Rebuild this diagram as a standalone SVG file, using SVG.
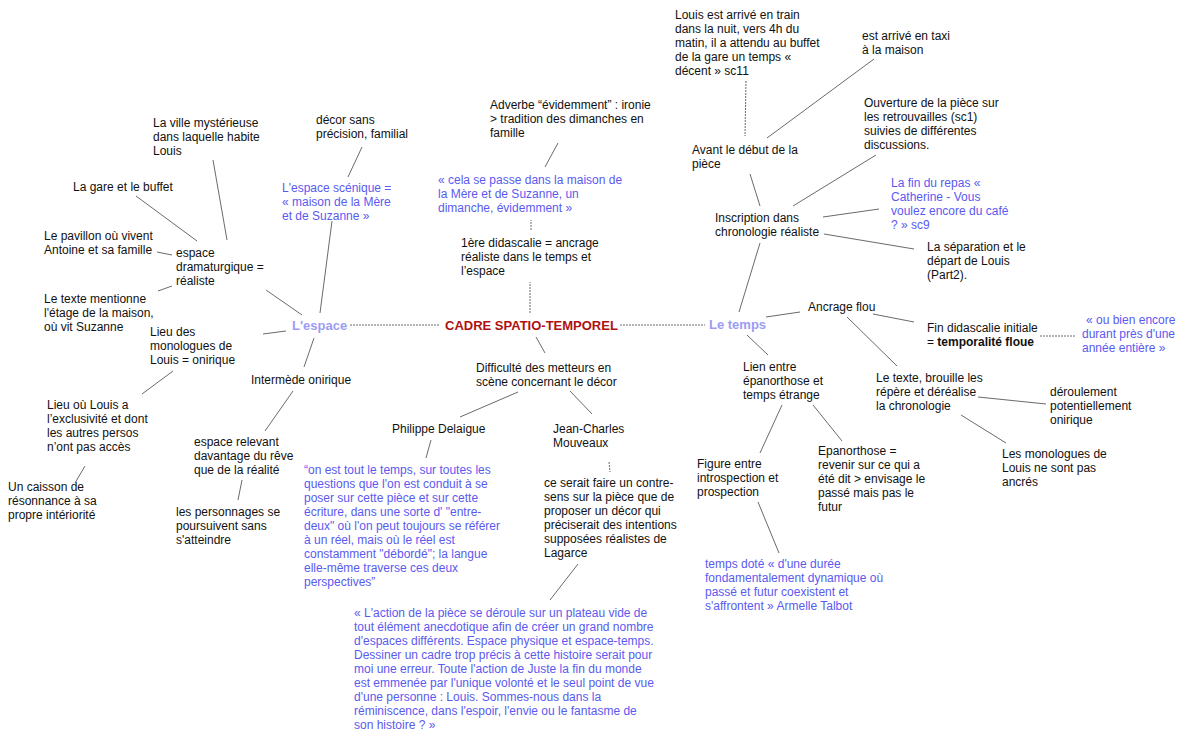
<svg xmlns="http://www.w3.org/2000/svg" width="1200" height="737" viewBox="0 0 1200 737">
<style>
text{font-family:"Liberation Sans",Arial,sans-serif;font-size:12px;fill:#111}
.b{fill:#5a5af0}
.h{fill:#9c9cf5;font-size:13px;font-weight:bold}
.c{fill:#b01010;font-size:13px;font-weight:bold}
#connectors line{stroke:#444;stroke-width:0.8}
#connectors .d{stroke-dasharray:2 1}
</style>
<rect width="1200" height="737" fill="#fff"/>
<g id="connectors">
<line class="d" x1="350" y1="325" x2="440" y2="325"/>
<line class="d" x1="620" y1="325" x2="705" y2="325"/>
<line class="d" x1="530" y1="313" x2="530" y2="282"/>
<line class="d" x1="531" y1="230" x2="531" y2="220"/>
<line x1="545" y1="167" x2="558" y2="143"/>
<line x1="536" y1="337" x2="545" y2="353"/>
<line x1="460" y1="417" x2="518" y2="392"/>
<line x1="570" y1="391" x2="592" y2="414"/>
<line x1="431" y1="440" x2="426" y2="458"/>
<line class="d" x1="609" y1="462" x2="610" y2="472"/>
<line x1="578" y1="564" x2="550" y2="600"/>
<line x1="302" y1="315" x2="266" y2="290"/>
<line x1="320" y1="313" x2="332" y2="221"/>
<line x1="348" y1="177" x2="362" y2="147"/>
<line x1="286" y1="331" x2="263" y2="334"/>
<line x1="314" y1="338" x2="304" y2="367"/>
<line x1="227" y1="240" x2="213" y2="160"/>
<line x1="197" y1="241" x2="136" y2="196"/>
<line x1="172" y1="255" x2="157" y2="252"/>
<line x1="172" y1="286" x2="158" y2="291"/>
<line x1="173" y1="371" x2="142" y2="394"/>
<line x1="85" y1="466" x2="75" y2="483"/>
<line x1="293" y1="391" x2="265" y2="431"/>
<line x1="242" y1="480" x2="238" y2="500"/>
<line class="d" x1="746" y1="81" x2="745" y2="136"/>
<line x1="767" y1="138" x2="874" y2="59"/>
<line x1="750" y1="174" x2="760" y2="206"/>
<line x1="793" y1="206" x2="876" y2="155"/>
<line x1="823" y1="217" x2="879" y2="209"/>
<line x1="824" y1="234" x2="914" y2="249"/>
<line x1="760" y1="243" x2="739" y2="312"/>
<line x1="766" y1="317" x2="800" y2="312"/>
<line x1="873" y1="314" x2="914" y2="322"/>
<line class="d" x1="1040" y1="336" x2="1076" y2="336"/>
<line x1="847" y1="317" x2="897" y2="366"/>
<line x1="747" y1="335" x2="768" y2="355"/>
<line x1="782" y1="405" x2="760" y2="453"/>
<line x1="813" y1="405" x2="842" y2="441"/>
<line x1="758" y1="502" x2="779" y2="553"/>
<line x1="978" y1="397" x2="1046" y2="404"/>
<line x1="961" y1="415" x2="1006" y2="443"/>
</g>
<text class="c" x="445" y="330">CADRE SPATIO-TEMPOREL</text>
<text class="h" x="292" y="330">L'espace</text>
<text class="h" x="709" y="329">Le temps</text>
<g id="n-espace">
<text x="153" y="127">La ville mystérieuse</text><text x="153" y="141">dans laquelle habite</text><text x="153" y="155">Louis</text>
<text x="73" y="191">La gare et le buffet</text>
<text x="44" y="240">Le pavillon où vivent</text><text x="44" y="254">Antoine et sa famille</text>
<text x="176" y="257">espace</text><text x="176" y="271">dramaturgique =</text><text x="176" y="285">réaliste</text>
<text x="44" y="303">Le texte mentionne</text><text x="44" y="317">l'étage de la maison,</text><text x="44" y="331">où vit Suzanne</text>
<text x="150" y="336">Lieu des</text><text x="150" y="350">monologues de</text><text x="150" y="364">Louis = onirique</text>
<text x="316" y="124">décor sans</text><text x="316" y="138">précision, familial</text>
<text class="b" x="282" y="192">L'espace scénique =</text><text class="b" x="282" y="206">« maison de la Mère</text><text class="b" x="282" y="220">et de Suzanne »</text>
<text x="251" y="384">Intermède onirique</text>
<text x="47" y="409">Lieu où Louis a</text><text x="47" y="423">l’exclusivité et dont</text><text x="47" y="437">les autres persos</text><text x="47" y="451">n’ont pas accès</text>
<text x="8" y="491">Un caisson de</text><text x="8" y="505">résonnance à sa</text><text x="8" y="519">propre intériorité</text>
<text x="194" y="446">espace relevant</text><text x="194" y="460">davantage du rêve</text><text x="194" y="474">que de la réalité</text>
<text x="176" y="516">les personnages se</text><text x="176" y="530">poursuivent sans</text><text x="176" y="544">s'atteindre</text>
</g>
<g id="n-centre">
<text x="490" y="109">Adverbe “évidemment” : ironie</text><text x="490" y="123">&gt; tradition des dimanches en</text><text x="490" y="137">famille</text>
<text class="b" x="438" y="184">« cela se passe dans la maison de</text><text class="b" x="438" y="198">la Mère et de Suzanne, un</text><text class="b" x="438" y="212">dimanche, évidemment »</text>
<text x="461" y="247">1ère didascalie = ancrage</text><text x="461" y="261">réaliste dans le temps et</text><text x="461" y="275">l’espace</text>
<text x="476" y="372">Difficulté des metteurs en</text><text x="476" y="386">scène concernant le décor</text>
<text x="392" y="433">Philippe Delaigue</text>
<text x="553" y="433">Jean-Charles</text><text x="553" y="447">Mouveaux</text>
<text class="b" x="304" y="474">“on est tout le temps, sur toutes les</text><text class="b" x="304" y="488">questions que l'on est conduit à se</text><text class="b" x="304" y="502">poser sur cette pièce et sur cette</text><text class="b" x="304" y="516">écriture, dans une sorte d' "entre-</text><text class="b" x="304" y="530">deux" où l'on peut toujours se référer</text><text class="b" x="304" y="544">à un réel, mais où le réel est</text><text class="b" x="304" y="558">constamment "débordé"; la langue</text><text class="b" x="304" y="572">elle-même traverse ces deux</text><text class="b" x="304" y="586">perspectives”</text>
<text x="544" y="487">ce serait faire un contre-</text><text x="544" y="501">sens sur la pièce que de</text><text x="544" y="515">proposer un décor qui</text><text x="544" y="529">préciserait des intentions</text><text x="544" y="543">supposées réalistes de</text><text x="544" y="557">Lagarce</text>
<text class="b" x="354" y="617">« L'action de la pièce se déroule sur un plateau vide de</text><text class="b" x="354" y="631">tout élément anecdotique afin de créer un grand nombre</text><text class="b" x="354" y="645">d'espaces différents. Espace physique et espace-temps.</text><text class="b" x="354" y="659">Dessiner un cadre trop précis à cette histoire serait pour</text><text class="b" x="354" y="673">moi une erreur. Toute l'action de Juste la fin du monde</text><text class="b" x="354" y="687">est emmenée par l'unique volonté et le seul point de vue</text><text class="b" x="354" y="701">d'une personne : Louis. Sommes-nous dans la</text><text class="b" x="354" y="715">réminiscence, dans l'espoir, l'envie ou le fantasme de</text><text class="b" x="354" y="729">son histoire ? »</text>
</g>
<g id="n-temps">
<text x="675" y="19">Louis est arrivé en train</text><text x="675" y="33">dans la nuit, vers 4h du</text><text x="675" y="47">matin, il a attendu au buffet</text><text x="675" y="61">de la gare un temps «</text><text x="675" y="75">décent » sc11</text>
<text x="862" y="40">est arrivé en taxi</text><text x="862" y="54">à la maison</text>
<text x="692" y="154">Avant le début de la</text><text x="692" y="168">pièce</text>
<text x="864" y="107">Ouverture de la pièce sur</text><text x="864" y="121">les retrouvailles (sc1)</text><text x="864" y="135">suivies de différentes</text><text x="864" y="149">discussions.</text>
<text class="b" x="891" y="187">La fin du repas «</text><text class="b" x="891" y="201">Catherine - Vous</text><text class="b" x="891" y="215">voulez encore du café</text><text class="b" x="891" y="229">? » sc9</text>
<text x="715" y="222">Inscription dans</text><text x="715" y="236">chronologie réaliste</text>
<text x="927" y="251">La séparation et le</text><text x="927" y="265">départ de Louis</text><text x="927" y="279">(Part2).</text>
<text x="808" y="311">Ancrage flou</text>
<text x="927" y="332">Fin didascalie initiale</text><text x="927" y="346">= <tspan font-weight="bold">temporalité floue</tspan></text>
<text class="b" x="1086" y="324"> « ou bien encore</text><text class="b" x="1082" y="338">durant près d'une</text><text class="b" x="1082" y="352">année entière »</text>
<text x="743" y="371">Lien entre</text><text x="743" y="385">épanorthose et</text><text x="743" y="399">temps étrange</text>
<text x="876" y="382">Le texte, brouille les</text><text x="876" y="396">répère et déréalise</text><text x="876" y="410">la chronologie</text>
<text x="1050" y="396">déroulement</text><text x="1050" y="410">potentiellement</text><text x="1050" y="424">onirique</text>
<text x="1002" y="458">Les monologues de</text><text x="1002" y="472">Louis ne sont pas</text><text x="1002" y="486">ancrés</text>
<text x="697" y="468">Figure entre</text><text x="697" y="482">introspection et</text><text x="697" y="496">prospection</text>
<text x="818" y="455">Epanorthose =</text><text x="818" y="469">revenir sur ce qui a</text><text x="818" y="483">été dit &gt; envisage le</text><text x="818" y="497">passé mais pas le</text><text x="818" y="511">futur</text>
<text class="b" x="705" y="568">temps doté « d'une durée</text><text class="b" x="705" y="582">fondamentalement dynamique où</text><text class="b" x="705" y="596">passé et futur coexistent et</text><text class="b" x="705" y="610">s'affrontent » Armelle Talbot</text>
</g>
</svg>
